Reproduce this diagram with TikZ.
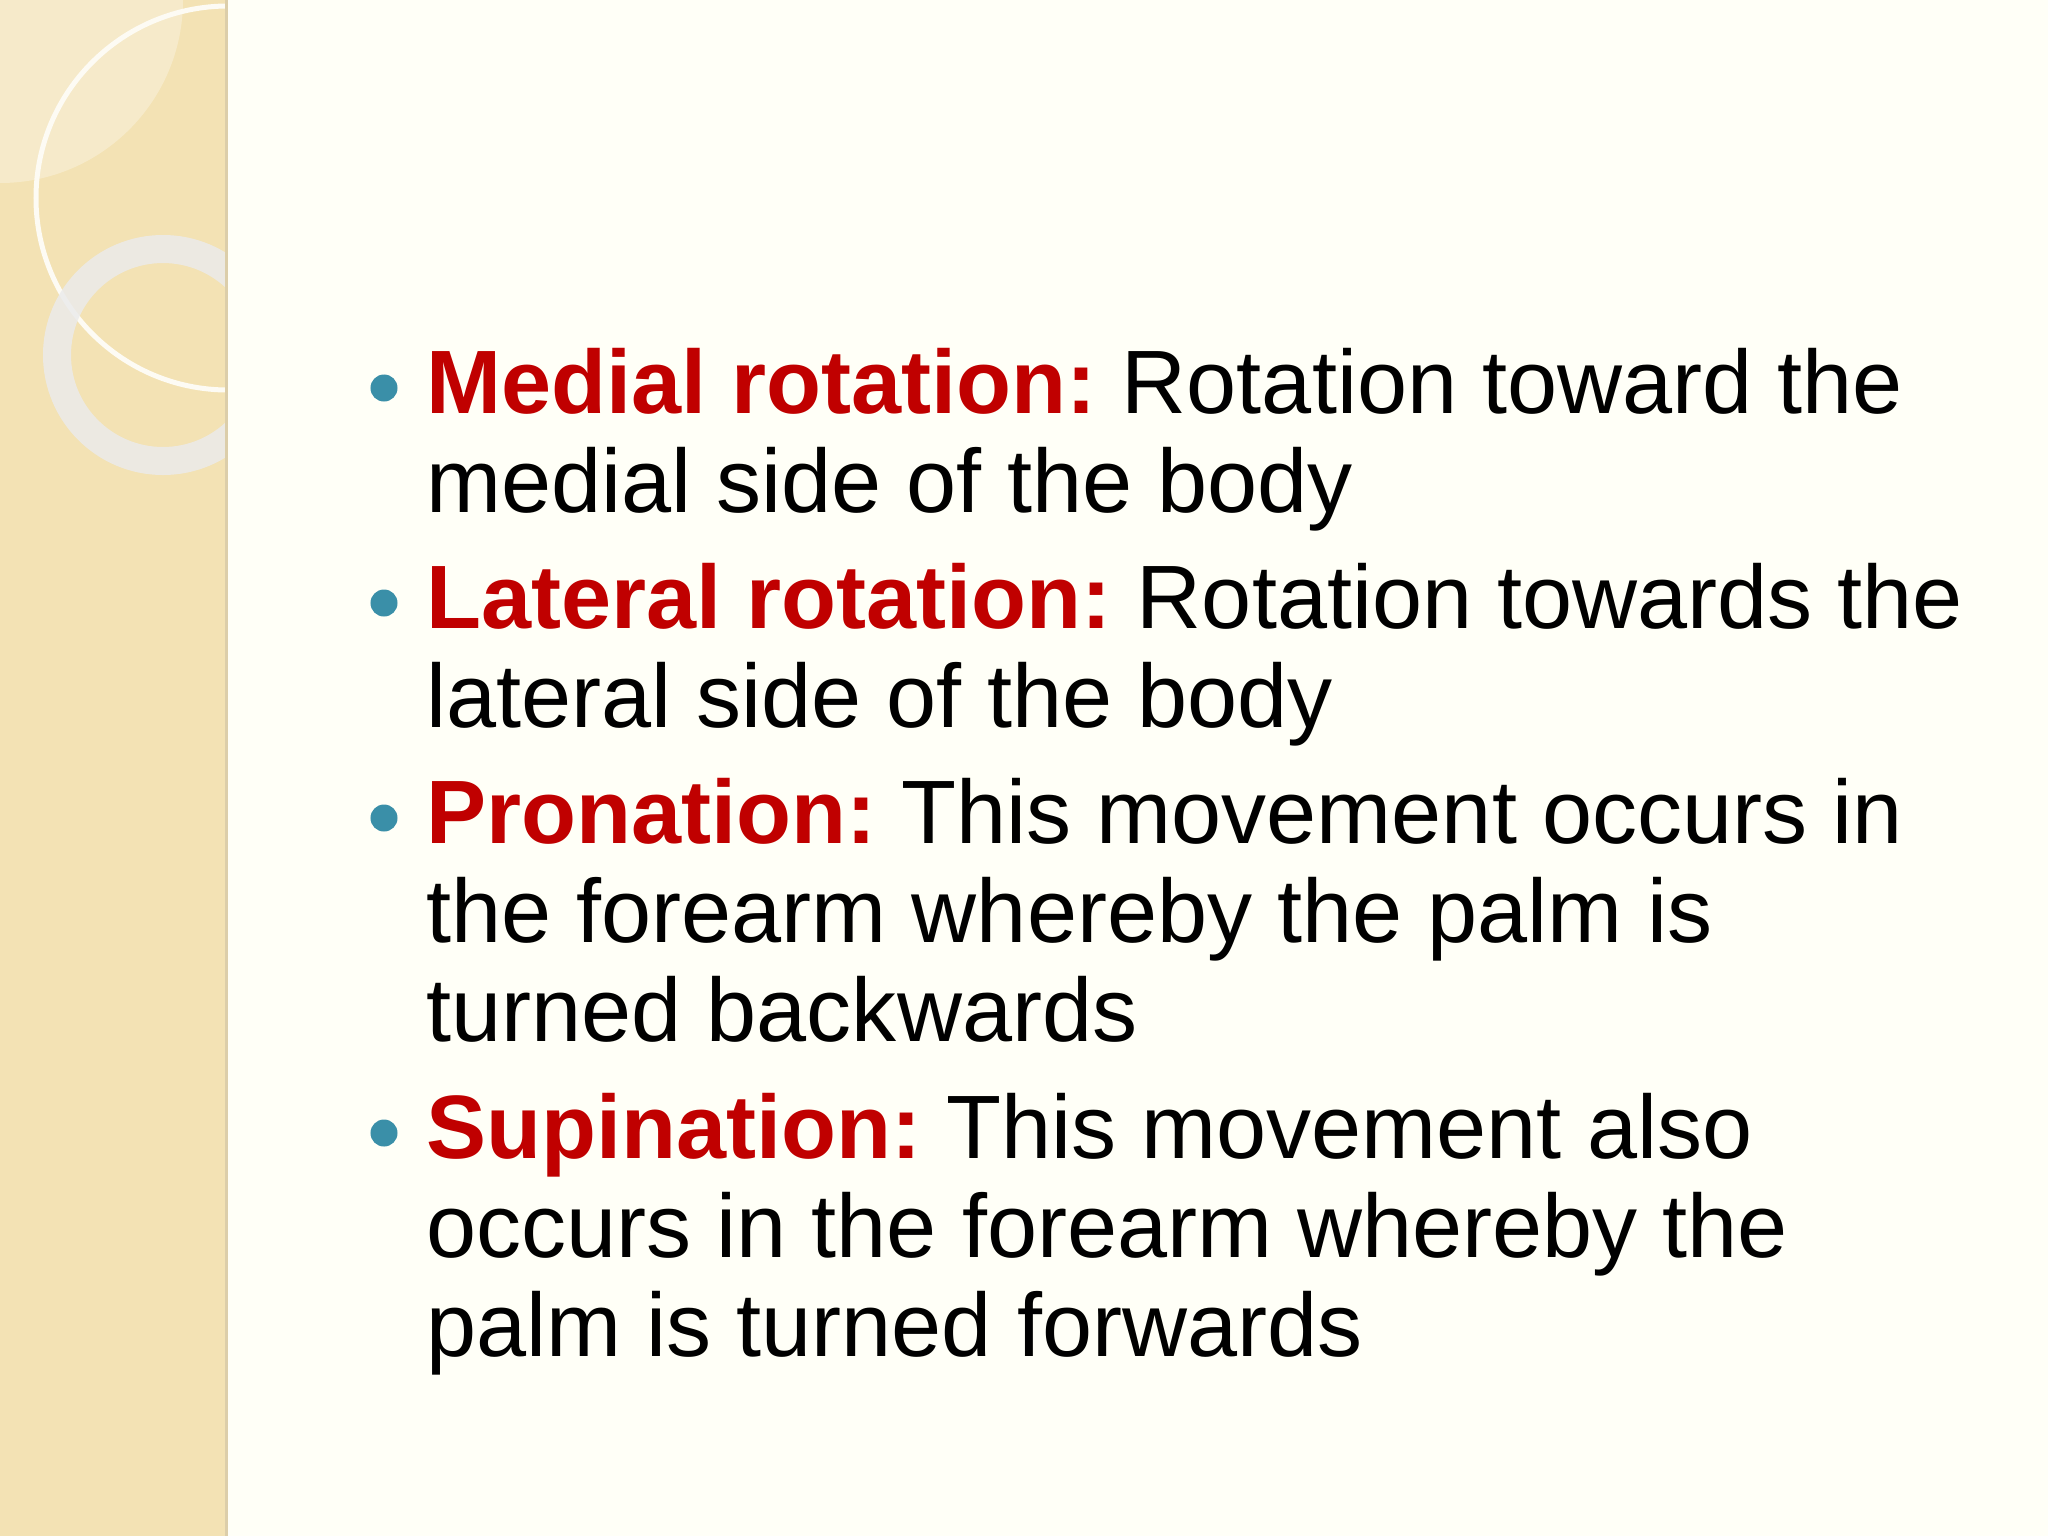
\documentclass[tikz,border=0pt]{standalone}
\usepackage{fontspec}
\setmainfont{Liberation Sans}
\definecolor{panel}{HTML}{F3E2B4}
\definecolor{hl}{HTML}{C00000}
\definecolor{bul}{HTML}{3A8FA8}
\begin{document}
\begin{tikzpicture}[x=0.01cm,y=-0.01cm,
  ln/.style={anchor=base west,inner sep=0pt,font=\fontsize{25.6}{30}\selectfont},
  bl/.style={circle,fill=bul,inner sep=0pt,minimum size=0.27cm}]
\useasboundingbox (0,0) rectangle (2048,1536);
\fill[white!97!yellow] (0,0) rectangle (2048,1536);
\begin{scope}
\clip (0,0) rectangle (227,1536);
\fill[panel] (0,0) rectangle (227,1536);
\fill[white,opacity=0.3] (0,0) -- (183,0) arc[start angle=0,end angle=90,radius=183] -- cycle;
\draw[white!85!panel,line width=0.05cm] (228,198) circle[radius=192];
\draw[black!8!white,line width=0.28cm,opacity=0.85] (163,355) circle[radius=106];
\end{scope}
\fill[panel!80!gray] (225,0) rectangle (228,1536);
\node[bl] (b1) at (384,388) {};
\node[ln] (t1) at (426,413) {\textcolor{hl}{\textbf{Medial rotation:}}~Rotation toward the};
\node[ln] (t1b) at (426,512) {medial side of the body};
\node[bl] (b2) at (384,603) {};
\node[ln] (t2) at (426,628) {\textcolor{hl}{\textbf{Lateral rotation:}}~Rotation towards the};
\node[ln] (t2b) at (426,727) {lateral side of the body};
\node[bl] (b3) at (384,818) {};
\node[ln] (t3) at (426,843) {\textcolor{hl}{\textbf{Pronation:}}~This movement occurs in};
\node[ln] (t3b) at (426,942) {the forearm whereby the palm is};
\node[ln] (t3c) at (426,1041) {turned backwards};
\node[bl] (b4) at (384,1133) {};
\node[ln] (t4) at (426,1158) {\textcolor{hl}{\textbf{Supination:}}~This movement also};
\node[ln] (t4b) at (426,1257) {occurs in the forearm whereby the};
\node[ln] (t4c) at (426,1356) {palm is turned forwards};
\end{tikzpicture}
\end{document}
